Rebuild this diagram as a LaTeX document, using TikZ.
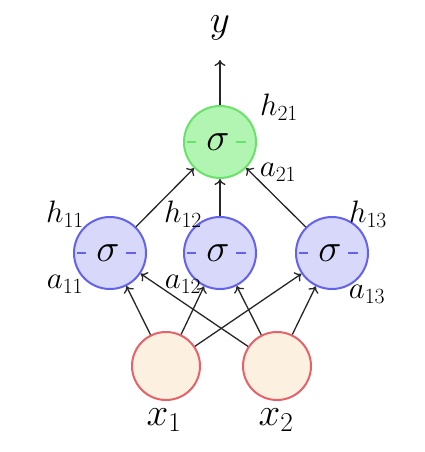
\documentclass[tikz,border=0pt]{standalone}
\usepackage{fix-cm}
\usetikzlibrary{arrows.meta}
\definecolor{gfill}{RGB}{178,244,178}
\definecolor{gdraw}{RGB}{105,226,105}
\definecolor{bfill}{RGB}{216,216,250}
\definecolor{bdraw}{RGB}{98,98,236}
\definecolor{ifill}{RGB}{252,240,225}
\definecolor{idraw}{RGB}{230,98,104}
\begin{document}
\begin{tikzpicture}[x=1pt,y=-1pt,
  neuron/.style={circle,line width=2pt,minimum size=72pt,inner sep=0pt},
  outn/.style={neuron,fill=gfill,draw=gdraw},
  hidn/.style={neuron,fill=bfill,draw=bdraw},
  inpn/.style={neuron,fill=ifill,draw=idraw,minimum size=68pt},
  big/.style={font=\fontsize{39}{41}\selectfont},
  lab/.style={font=\fontsize{31}{33}\selectfont},
  conn/.style={-{To[length=6pt,width=11pt]},line width=1.3pt,black!85}]
\useasboundingbox (0,0) rectangle (424,452);
\fill[white] (0,0) rectangle (424,452);
\node[outn] (o) at (220,142) {};
\node[hidn] (h1) at (110,253) {};
\node[hidn] (h2) at (220,253) {};
\node[hidn] (h3) at (332,253) {};
\node[inpn] (i1) at (166,366) {};
\node[inpn] (i2) at (277,366) {};
% dashes and sigma
\foreach \n/\c in {o/gdraw,h1/bdraw,h2/bdraw,h3/bdraw}{
  \draw[\c,line width=1.5pt] ([xshift=-33pt]\n.center) -- ([xshift=-24pt]\n.center);
  \draw[\c,line width=1.5pt] ([xshift=16pt]\n.center) -- ([xshift=26pt]\n.center);
  \node[big] at ([xshift=-2pt]\n.center) {$\sigma$};
}
\coordinate (yout) at (220,60);
\node[big] (ylab) at (220,28) {$y$};
\draw[conn] (o) -- (yout);
\draw[conn] (h1) -- (o);
\draw[conn] (h2) -- (o);
\draw[conn] (h3) -- (o);
\foreach \i in {i1,i2}{\foreach \h in {h1,h2,h3}{\draw[conn] (\i) -- (\h);}}
\node[lab] (lh21) at (279,107) {$h_{21}$};
\node[lab] (la21) at (278,172) {$a_{21}$};
\node[lab] (lh11) at (65,214) {$h_{11}$};
\node[lab] (lh12) at (183,214) {$h_{12}$};
\node[lab] (lh13) at (368,214) {$h_{13}$};
\node[lab] (la11) at (65,284) {$a_{11}$};
\node[lab] (la12) at (183,284) {$a_{12}$};
\node[lab] (la13) at (367,294) {$a_{13}$};
\node[big] (lx1) at (164,420) {$x_1$};
\node[big] (lx2) at (276,420) {$x_2$};
\end{tikzpicture}
\end{document}
